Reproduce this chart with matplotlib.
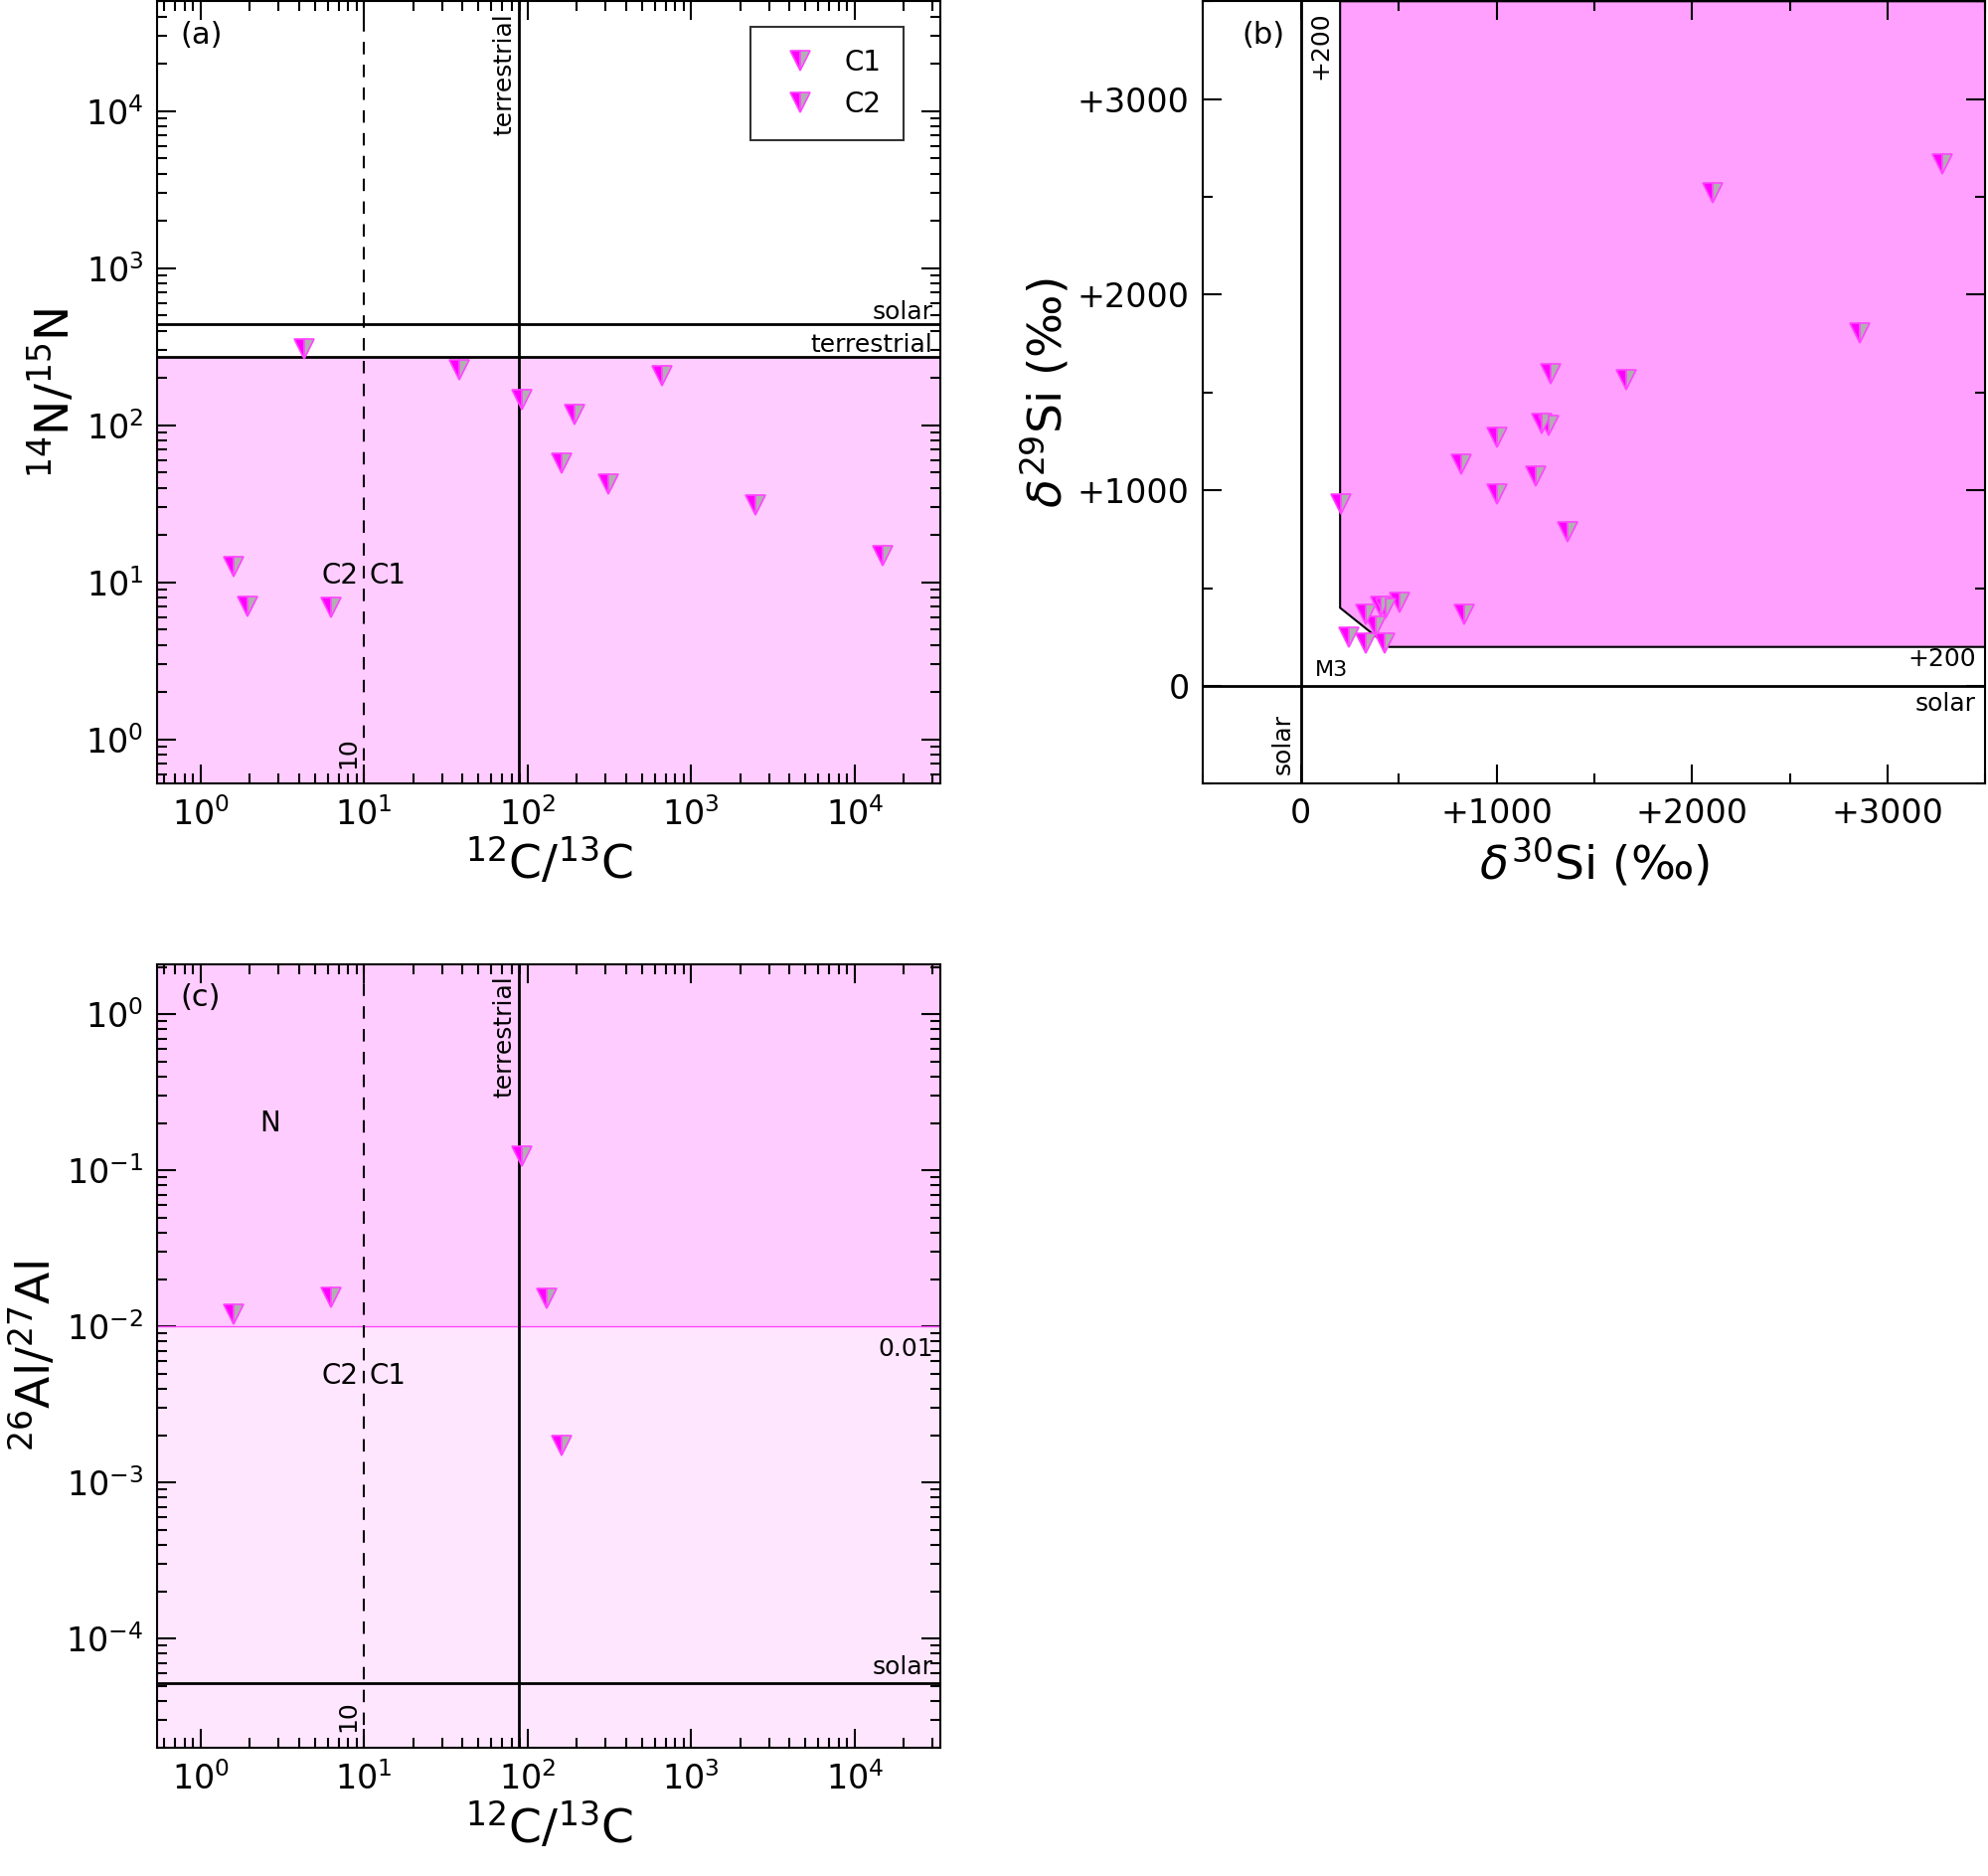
import matplotlib
matplotlib.use("Agg")
import matplotlib.pyplot as plt
import numpy as np
from matplotlib.ticker import LogLocator, NullFormatter, FixedLocator, MultipleLocator

# Panel (a) data
a_c = [4.32, 38.1, 93, 194, 663, 162, 313, 2480, 14800, 1.59, 1.94, 6.3]
a_n = [305, 226, 145, 116, 206, 57, 42, 31, 14.8, 12.5, 7.0, 6.9]
# Panel (b) data
b_si30 = [206, 2103, 3277, 2858, 1277, 1665, 819, 1000, 1232, 1265, 1200, 1000, 1361,
          832, 503, 406, 432, 329, 381, 245, 329, 426]
b_si29 = [929, 2519, 2669, 1805, 1597, 1565, 1136, 1273, 1344, 1331, 1071, 981, 786,
          364, 429, 409, 396, 364, 305, 247, 221, 221]
# Panel (c) data
c_c = [1.59, 6.3, 93, 131, 162]
c_al = [0.012, 0.0154, 0.123, 0.0152, 0.00172]

W, H = 1568, 1479
fig = plt.figure(figsize=(20, 18.87), dpi=100)
def rect(l, r, t, b):
    return [l / W, 1 - b / H, (r - l) / W, (b - t) / H]
axa = fig.add_axes(rect(124, 742, 1, 618))
axb = fig.add_axes(rect(949, 1566, 1, 618))
axc = fig.add_axes(rect(124, 742, 760, 1378))

mk = dict(marker='v', ls='none', ms=15, fillstyle='left', markerfacecolor='#ff00ff',
          markerfacecoloralt='#b0b0b0', markeredgecolor='#ff44ff', markeredgewidth=1.2, zorder=5)
TS = 24
SM = 16

def style_log(ax):
    ax.set_xscale('log'); ax.set_yscale('log')
    ax.xaxis.set_major_locator(LogLocator(base=10, numticks=20))
    ax.yaxis.set_major_locator(LogLocator(base=10, numticks=20))
    ax.xaxis.set_minor_locator(LogLocator(base=10, subs=np.arange(2, 10), numticks=20))
    ax.yaxis.set_minor_locator(LogLocator(base=10, subs=np.arange(2, 10), numticks=20))
    ax.xaxis.set_minor_formatter(NullFormatter()); ax.yaxis.set_minor_formatter(NullFormatter())
    ax.tick_params(which='both', direction='in', top=True, right=True, labelsize=TS, width=1.5)
    ax.tick_params(which='major', length=14, pad=10)
    ax.tick_params(which='minor', length=7)
    for s in ax.spines.values(): s.set_linewidth(1.5)

# ---- (a)
ax = axa
style_log(ax)
ax.set_xlim(0.545, 33600); ax.set_ylim(0.52, 50000)
ax.axhspan(0.52, 272, color='#ffccff', zorder=0)
ax.axhline(441, color='k', lw=2); ax.axhline(272, color='k', lw=2)
ax.axvline(89, color='k', lw=2)
ax.axvline(10, color='k', lw=1.5, ls=(0, (6, 5)))
ax.plot(a_c, a_n, label='C1', **mk)
ax.plot([], [], label='C2', **mk)
ax.legend(loc='upper right', fontsize=20, frameon=True, fancybox=False, edgecolor='k',
          handletextpad=0.6, borderpad=0.8, bbox_to_anchor=(0.97, 0.985)).get_frame().set_linewidth(1.5)
ax.text(0.03, 0.975, '(a)', transform=ax.transAxes, fontsize=22, va='top')
ax.text(0.99, 441, 'solar', transform=ax.get_yaxis_transform(), ha='right', va='bottom', fontsize=18)
ax.text(0.99, 272, 'terrestrial', transform=ax.get_yaxis_transform(), ha='right', va='bottom', fontsize=18)
ax.text(85, 0.985, 'terrestrial', transform=ax.get_xaxis_transform(), rotation=90, ha='right', va='top', fontsize=18)
ax.text(9.3, 11, 'C2', ha='right', va='center', fontsize=20)
ax.text(10.8, 11, 'C1', ha='left', va='center', fontsize=20)
ax.text(9.5, 0.02, '10', transform=ax.get_xaxis_transform(), rotation=90, ha='right', va='bottom', fontsize=18)
ax.set_xlabel(r'$^{12}$C/$^{13}$C', fontsize=34)
ax.set_ylabel(r'$^{14}$N/$^{15}$N', fontsize=34)

# ---- (b)
ax = axb
ax.set_xlim(-500, 3500); ax.set_ylim(-500, 3500)
poly = plt.Polygon([[200, 3500], [200, 400], [450, 200], [3500, 200], [3500, 3500]],
                   closed=True, facecolor='#ffa0ff', edgecolor='k', lw=1.5, zorder=0)
ax.add_patch(poly)
ax.axhline(0, color='k', lw=2); ax.axvline(0, color='k', lw=2)
ax.plot(b_si30, b_si29, **mk)
ax.xaxis.set_major_locator(FixedLocator([0, 1000, 2000, 3000]))
ax.yaxis.set_major_locator(FixedLocator([0, 1000, 2000, 3000]))
ax.xaxis.set_minor_locator(MultipleLocator(500)); ax.yaxis.set_minor_locator(MultipleLocator(500))
fmt = lambda v, p: '0' if v == 0 else '+%d' % v
ax.xaxis.set_major_formatter(fmt); ax.yaxis.set_major_formatter(fmt)
ax.tick_params(which='both', direction='in', top=True, right=True, labelsize=TS, width=1.5)
ax.tick_params(which='major', length=14, pad=10); ax.tick_params(which='minor', length=7)
for s in ax.spines.values(): s.set_linewidth(1.5)
ax.text(0.05, 0.975, '(b)', transform=ax.transAxes, fontsize=22, va='top')
ax.text(3450, 200, '+200', ha='right', va='top', fontsize=18)
ax.text(3450, -30, 'solar', ha='right', va='top', fontsize=18)
ax.text(-30, -450, 'solar', rotation=90, ha='right', va='bottom', fontsize=18)
ax.text(160, 3450, '+200', rotation=90, ha='right', va='top', fontsize=18)
ax.text(70, 130, 'M3', ha='left', va='top', fontsize=16)
ax.set_xlabel(r'$\delta^{30}$Si (‰)', fontsize=34)
ax.set_ylabel(r'$\delta^{29}$Si (‰)', fontsize=34)

# ---- (c)
ax = axc
style_log(ax)
ax.set_xlim(0.545, 33600); ax.set_ylim(10**-4.70, 2.1)
ax.axhspan(0.01, 2.1, color='#ffccff', zorder=0)
ax.axhspan(10**-4.70, 0.01, color='#ffe6ff', zorder=0)
ax.axhline(0.01, color='#ff44ff', lw=1)
ax.axhline(5.2e-5, color='k', lw=2)
ax.axvline(89, color='k', lw=2)
ax.axvline(10, color='k', lw=1.5, ls=(0, (6, 5)))
ax.plot(c_c, c_al, **mk)
ax.text(0.03, 0.975, '(c)', transform=ax.transAxes, fontsize=22, va='top')
ax.text(0.99, 0.0085, '0.01', transform=ax.get_yaxis_transform(), ha='right', va='top', fontsize=18)
ax.text(0.99, 5.5e-5, 'solar', transform=ax.get_yaxis_transform(), ha='right', va='bottom', fontsize=18)
ax.text(85, 0.985, 'terrestrial', transform=ax.get_xaxis_transform(), rotation=90, ha='right', va='top', fontsize=18)
ax.text(2.67, 0.2, 'N', ha='center', va='center', fontsize=20)
ax.text(9.3, 0.0048, 'C2', ha='right', va='center', fontsize=20)
ax.text(10.8, 0.0048, 'C1', ha='left', va='center', fontsize=20)
ax.text(9.5, 0.02, '10', transform=ax.get_xaxis_transform(), rotation=90, ha='right', va='bottom', fontsize=18)
ax.set_xlabel(r'$^{12}$C/$^{13}$C', fontsize=34)
ax.set_ylabel(r'$^{26}$Al/$^{27}$Al', fontsize=34)

fig.savefig('out.png', dpi=100)
